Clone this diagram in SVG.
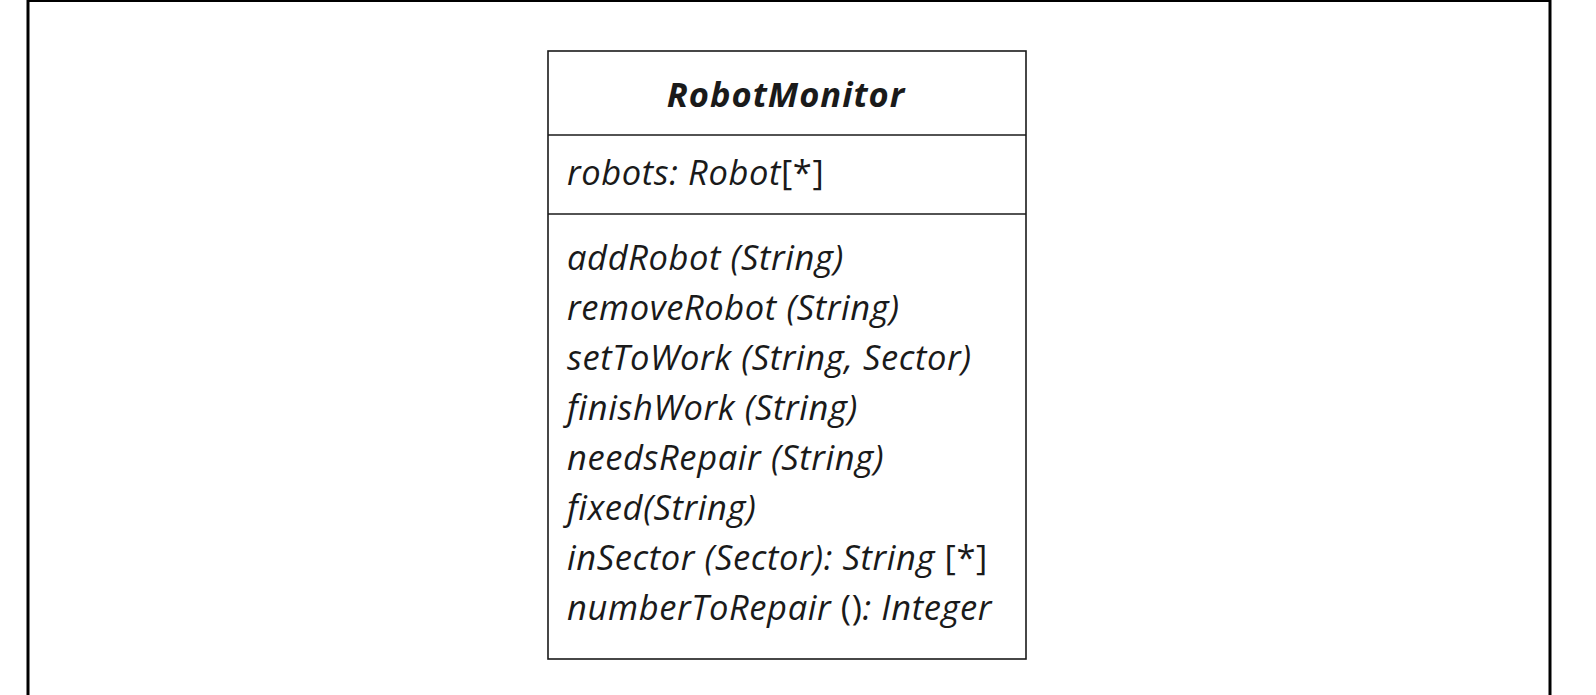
<svg xmlns="http://www.w3.org/2000/svg" width="1596" height="695" viewBox="0 0 1596 695">
<style>
.frame{fill:none;stroke:#000;stroke-width:3}
.box{fill:#fff;stroke:#1a1a1a;stroke-width:1.6}
.sep{stroke:#1a1a1a;stroke-width:1.6}
.t{font-family:"Open Sans","Noto Sans",sans-serif;font-style:italic;font-size:34.5px;letter-spacing:0.6px;fill:#1a1a1a}
.title{font-weight:bold;text-anchor:middle;letter-spacing:1px}
</style>
<rect width="1596" height="695" fill="#fff"/>
<g id="frame">
<path class="frame" d="M28,695 V0.5 H1550 V695"/>
</g>
<g id="RobotMonitor">
<rect class="box" x="548" y="51" width="478" height="608"/>
<line class="sep" x1="548" y1="135" x2="1026" y2="135"/>
<line class="sep" x1="548" y1="214" x2="1026" y2="214"/>
<text class="t title" x="786" y="107">RobotMonitor</text>
<text class="t" x="567" y="185">robots: Robot<tspan font-style="normal">[*]</tspan></text>
<text class="t" x="567" y="270">addRobot (String)</text>
<text class="t" x="567" y="320">removeRobot (String)</text>
<text class="t" x="567" y="370">setToWork (String, Sector)</text>
<text class="t" x="567" y="420">finishWork (String)</text>
<text class="t" x="567" y="470">needsRepair (String)</text>
<text class="t" x="567" y="520">fixed(String)</text>
<text class="t" x="567" y="570">inSector (Sector): String <tspan font-style="normal">[*]</tspan></text>
<text class="t" x="567" y="620">numberToRepair <tspan font-style="normal">()</tspan>: Integer</text>
</g>
<g id="connectors"/>
</svg>
